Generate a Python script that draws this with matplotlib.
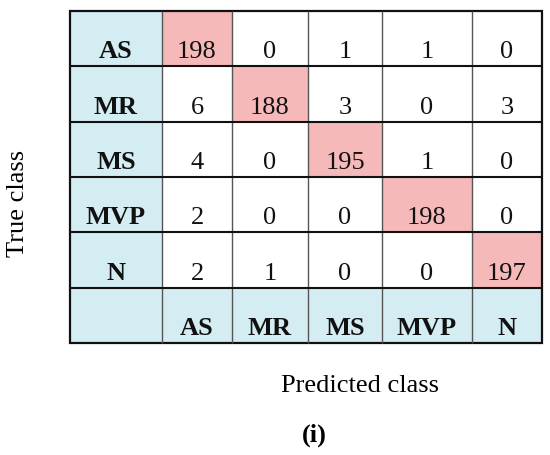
import numpy as np
import matplotlib
matplotlib.use("Agg")
from matplotlib import pyplot as plt
from matplotlib.patches import Rectangle

classes = ["AS", "MR", "MS", "MVP", "N"]
counts = np.array([
    [198, 0, 1, 1, 0],
    [6, 188, 3, 0, 3],
    [4, 0, 195, 1, 0],
    [2, 0, 0, 198, 0],
    [2, 1, 0, 0, 197],
])

# layout of the table (pixels), label column first
col_widths = [92, 70, 76, 74, 90, 70]
header_color = "#d4edf2"
diag_color = "#f5b9b9"

plt.rcParams['font.family'] = ['Liberation Serif', 'DejaVu Serif']

fig = plt.figure(figsize=(5.5, 4.56), dpi=100)
ax = fig.add_axes([70 / 550, (456 - 344) / 456, 472 / 550, 332 / 456])

edges = np.concatenate([[0], np.cumsum(col_widths)])
n_rows = len(classes) + 1
ax.set_xlim(0, edges[-1])
ax.set_ylim(n_rows, 0)
ax.axis("off")


def cell(col, row, color, text, bold):
    x0 = edges[col]
    w = edges[col + 1] - edges[col]
    ax.add_patch(Rectangle((x0, row), w, 1, facecolor=color, edgecolor="none",
                           clip_on=False))
    ax.text(x0 + w / 2, row + 0.84, text, ha="center", va="baseline", fontsize=19,
            fontweight="bold" if bold else "normal", color="#111111")


# data rows
for i, name in enumerate(classes):
    cell(0, i, header_color, name, True)
    for j in range(len(classes)):
        color = diag_color if i == j else "white"
        cell(j + 1, i, color, str(counts[i, j]), False)

# bottom header row
cell(0, len(classes), header_color, "", True)
for j, name in enumerate(classes):
    cell(j + 1, len(classes), header_color, name, True)

# grid: horizontal rules dark, vertical rules lighter
ax.vlines(edges[1:-1], 0, n_rows, color="#555555", linewidth=1.0, clip_on=False)
ax.hlines(np.arange(1, n_rows), 0, edges[-1], color="#111111", linewidth=1.5, clip_on=False)
ax.add_patch(Rectangle((0, 0), edges[-1], n_rows, facecolor="none", edgecolor="#111111",
                       linewidth=1.6, clip_on=False))

fig.text(18 / 550, 1 - 203 / 456, "True class", rotation=90, ha="center", va="center",
         fontsize=19)
fig.text(360 / 550, 1 - 392 / 456, "Predicted class", ha="center", va="baseline", fontsize=19)
fig.text(314 / 550, 1 - 442 / 456, "(i)", ha="center", va="baseline", fontsize=19,
         fontweight="bold")

fig.savefig("out.png", dpi=100)
